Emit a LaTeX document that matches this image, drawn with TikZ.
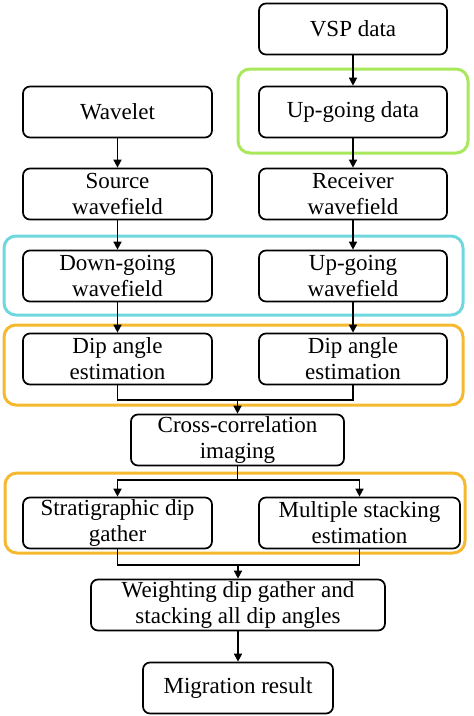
\documentclass[tikz,border=0pt]{standalone}
\usepackage{fontspec}
\setmainfont{Liberation Serif}
\usetikzlibrary{arrows.meta}
\definecolor{grp1}{RGB}{168,232,90}
\definecolor{grp2}{RGB}{111,216,222}
\definecolor{grp3}{RGB}{245,184,46}
\tikzset{
  stepbox/.style={draw=black, line width=1.7pt, rounded corners=7pt, inner sep=0pt,
    align=center, font=\fontsize{23}{26}\selectfont, minimum height=51pt},
  grpbox/.style={line width=3pt, rounded corners=12pt},
  conn/.style={line width=1.5pt},
  arr/.style={line width=1.5pt, -{Triangle[length=8pt,width=8pt]}},
}
\begin{document}
\begin{tikzpicture}[x=1pt,y=-1pt]
\useasboundingbox (0,0) rectangle (474,716);
% group frames
\draw[grpbox, draw=grp1] (238,69) rectangle (468,153);
\draw[grpbox, draw=grp2] (4,236) rectangle (463,315);
\draw[grpbox, draw=grp3] (4,325) rectangle (463,405);
\draw[grpbox, draw=grp3] (5,473) rectangle (465,553);
% nodes
\node[stepbox, minimum width=188pt] (vsp) at (353,29) {VSP data};
\node[stepbox, minimum width=189pt] (wav) at (117.5,112) {Wavelet};
\node[stepbox, minimum width=188pt] (upd) at (353,112) {Up-going data};
\node[stepbox, minimum width=189pt] (src) at (117.5,194) {Source\\wavefield};
\node[stepbox, minimum width=188pt] (rcv) at (353,194) {Receiver\\wavefield};
\node[stepbox, minimum width=189pt] (dwf) at (117.5,276) {Down-going\\wavefield};
\node[stepbox, minimum width=188pt] (uwf) at (353,276) {Up-going\\wavefield};
\node[stepbox, minimum width=189pt] (dip1) at (117.5,359) {Dip angle\\estimation};
\node[stepbox, minimum width=188pt] (dip2) at (353,359) {Dip angle\\estimation};
\node[stepbox, minimum width=213pt] (xc) at (237.5,440) {Cross-correlation\\imaging};
\node[stepbox, minimum width=189pt] (strat) at (117.5,523) {Stratigraphic dip\\gather};
\node[stepbox, minimum width=201pt] (mult) at (359.5,523) {Multiple stacking\\estimation};
\node[stepbox, minimum width=294pt] (wgt) at (238,605) {Weighting dip gather and\\stacking all dip angles};
\node[stepbox, minimum width=190pt] (mig) at (238,688) {Migration result};
% connectors
\draw[arr] (vsp) -- (upd);
\draw[arr] (upd) -- (rcv);
\draw[arr] (wav) -- (src);
\draw[arr] (src) -- (dwf);
\draw[arr] (rcv) -- (uwf);
\draw[arr] (dwf) -- (dip1);
\draw[arr] (uwf) -- (dip2);
\coordinate (j1) at (237.5,400);
\draw[conn] (dip1.south) |- (j1) -| (dip2.south);
\draw[arr] (j1) -- (xc.north);
\coordinate (s1) at (237.5,480);
\draw[conn] (xc.south) -- (s1);
\draw[arr] (s1) -| (strat.north);
\draw[arr] (s1) -| (mult.north);
\coordinate (m1) at (238,565);
\draw[conn] (strat.south) |- (m1) -| (mult.south);
\draw[arr] (m1) -- (wgt.north);
\draw[arr] (wgt) -- (mig);
\end{tikzpicture}
\end{document}
